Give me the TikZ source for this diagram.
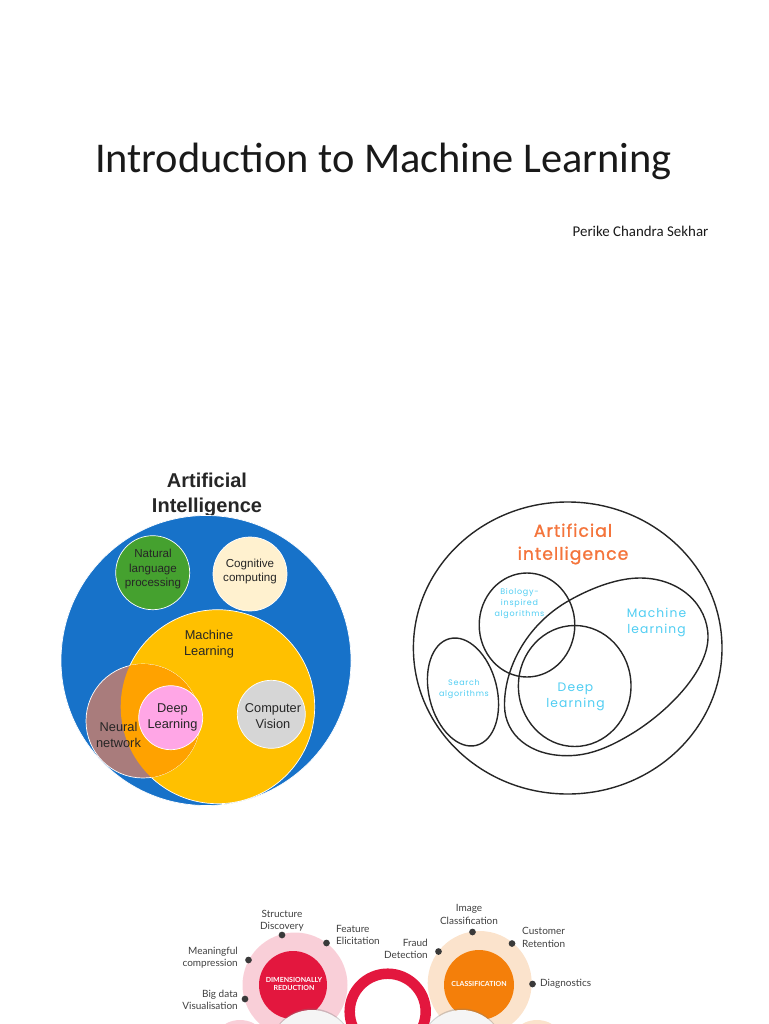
\documentclass[tikz,border=0pt]{standalone}
\usepackage{fontspec}
\setmainfont{Carlito}
\newfontfamily\arialf{Liberation Sans}
\newfontfamily\latof{Lato}
\newfontfamily\handf[LetterSpace=6,FakeBold=1.2]{Poppins}
\newfontfamily\handsf[LetterSpace=9]{Poppins}
\usetikzlibrary{shadows,shapes.geometric}
\definecolor{aiblue}{HTML}{1772C9}
\definecolor{mlyellow}{HTML}{FFC000}
\definecolor{nnbrown}{HTML}{A97C7C}
\definecolor{overlaporange}{HTML}{FFA200}
\definecolor{nlpgreen}{HTML}{45A12F}
\definecolor{cogcream}{HTML}{FFF1CF}
\definecolor{dlpink}{HTML}{FFA6E6}
\definecolor{cvgray}{HTML}{D6D6D6}
\definecolor{handorange}{HTML}{F4743B}
\definecolor{handblue}{HTML}{4FCDF2}
\definecolor{dimred}{HTML}{E3173E}
\definecolor{dimpink}{HTML}{F9CFD8}
\definecolor{claorange}{HTML}{F47F0A}
\definecolor{clacream}{HTML}{FBE3CC}
\definecolor{dotgray}{HTML}{3A3A3A}
\tikzset{
  x=1pt,y=-1pt,
  venn/.style={circle,draw=white,line width=.7pt,inner sep=0pt,outer sep=0pt},
  lefttext/.style={font=\arialf\fontsize{12.8}{16}\selectfont,align=center,text=black!85,inner sep=0pt},
  lefttextsmall/.style={font=\arialf\fontsize{11.6}{14.6}\selectfont,align=center,text=black!85,inner sep=0pt},
  handline/.style={draw=black!85,line width=1.4pt},
  handlabel/.style={font=\handsf\fontsize{12.3}{16}\selectfont,align=center,text=handblue,inner sep=0pt},
  handsmall/.style={font=\handsf\fontsize{8}{11.3}\selectfont,align=center,text=handblue,inner sep=0pt},
  bottomtext/.style={font=\latof\fontsize{10}{12.2}\selectfont,text=black!75,inner sep=0pt},
  inbadge/.style={font=\latof\bfseries\fontsize{7}{8.7}\selectfont,align=center,text=white,inner sep=0pt},
  blackdot/.style={circle,fill=dotgray,inner sep=0pt,minimum size=6.7pt},
}
\begin{document}
\begin{tikzpicture}
\useasboundingbox (0,0) rectangle (768,1024);
\clip (0,0) rectangle (768,1024);
% header
\node[font=\fontsize{42.4}{50}\selectfont,text=black!90,inner sep=0pt] (title) at (383.5,161.5) {Introduction to Machine Learning};
\node[font=\fontsize{14.9}{17}\selectfont,text=black!90,inner sep=0pt] (author) at (640.5,231) {Perike Chandra Sekhar};
% left diagram
\node[font=\arialf\bfseries\fontsize{20}{25.5}\selectfont,align=center,text=black!85,inner sep=0pt] (ltitle) at (207,495) {Artificial\\Intelligence};
\node[venn,fill=aiblue,minimum size=290pt] (ai) at (206,660.5) {};
\node[venn,fill=nlpgreen,minimum size=74pt] (nlp) at (152.7,572.7) {};
\node[venn,fill=cogcream,minimum size=74pt] (cog) at (250,574) {};
\node[venn,fill=mlyellow,minimum size=194pt] (ml) at (217.7,706.7) {};
\node[venn,fill=nnbrown,minimum size=114pt] (nn) at (143,721) {};
\begin{scope}
  \clip (217.7,706.7) circle (97);
  \fill[overlaporange] (143,721) circle (57);
\end{scope}
\node[venn,fill=dlpink,minimum size=64pt] (dl) at (170.7,717.7) {};
\node[venn,fill=cvgray,minimum size=68pt] (cv) at (271.3,714.3) {};
\node[lefttextsmall] (tnlp) at (153,569) {Natural\\language\\processing};
\node[lefttextsmall] (tcog) at (250,571.5) {Cognitive\\computing};
\node[lefttext] (tml) at (209,644.5) {Machine\\Learning};
\node[lefttext] (tdl) at (172.5,717.5) {Deep\\Learning};
\node[lefttext] (tcv) at (273,716) {Computer\\Vision};
\node[lefttext] (tnn) at (118.5,735) {Neural\\network};
% right diagram
\node[handline,ellipse,minimum width=308.6pt,minimum height=292pt,inner sep=0pt] (rai) at (567.7,648) {};
\draw[handline] (527,625) ellipse (47.8 and 52);
\draw[handline] (574.7,686) ellipse (56.3 and 60.5);
\draw[handline,rotate around={14:(463,692)}] (463,692) ellipse (34 and 55);
\draw[handline] (504.5,706) .. controls (504,670) and (525,625) .. (570,600)
  .. controls (595,586) and (620,578) .. (640,578)
  .. controls (680,578) and (708,605) .. (708,637)
  .. controls (708,670) and (670,710) .. (633,733)
  .. controls (610,747) and (590,755.7) .. (567,755.7)
  .. controls (530,755.7) and (505,735) .. (504.5,706) -- cycle;
\node[font=\handf\fontsize{17.2}{23}\selectfont,align=center,text=handorange,inner sep=0pt] (rtitle) at (573,544) {Artificial\\intelligence};
\node[handlabel] (rml) at (656.5,622) {Machine\\learning};
\node[handlabel] (rdl) at (575.5,697) {Deep\\learning};
\node[handsmall] (rbio) at (519.5,603.5) {Biology-\\inspired\\algorithms};
\node[handsmall] (rsea) at (464,689) {Search\\algorithms};
% bottom diagram
\node[circle,fill=dimpink,minimum size=105pt,inner sep=0pt] (dimo) at (295,985) {};
\node[circle,fill=dimred,minimum size=68pt,inner sep=0pt] (dimi) at (293,985) {};
\node[circle,fill=clacream,minimum size=104pt,inner sep=0pt] (clao) at (479.7,983) {};
\node[circle,fill=claorange,minimum size=70pt,inner sep=0pt] (clai) at (479,985) {};
\node[circle,draw=dimred,line width=10.5pt,fill=white,minimum size=76pt,inner sep=0pt] (ring) at (387.7,1011.7) {};
\fill[dimpink] (240,1050) circle (30);
\fill[clacream] (537,1050) circle (30);
\node[circle,fill=white!96!black,minimum size=84pt,inner sep=0pt,drop shadow={opacity=.35,shadow xshift=0pt,shadow yshift=1.5pt}] (wl) at (311.7,1052) {};
\node[circle,fill=white!96!black,minimum size=84pt,inner sep=0pt,drop shadow={opacity=.35,shadow xshift=0pt,shadow yshift=1.5pt}] (wr) at (461.7,1052) {};
\node[inbadge] (tdim) at (294,984) {DIMENSIONALLY\\REDUCTION};
\node[inbadge] (tcla) at (479,984) {CLASSIFICATION};
\node[blackdot] (d1) at (282,935) {};
\node[blackdot] (d2) at (326.5,943) {};
\node[blackdot] (d3) at (248.5,960) {};
\node[blackdot] (d4) at (245,999) {};
\node[blackdot] (d5) at (472.5,932) {};
\node[blackdot] (d6) at (512,943.5) {};
\node[blackdot] (d7) at (438.5,951.5) {};
\node[blackdot] (d8) at (532.5,984) {};
\node[bottomtext,align=center] (b1) at (282,920.5) {Structure\\Discovery};
\node[bottomtext,align=left,anchor=west] (b2) at (336,935) {Feature\\Elicitation};
\node[bottomtext,align=right,anchor=east] (b3) at (238,958) {Meaningful\\compression};
\node[bottomtext,align=right,anchor=east] (b4) at (238,999.5) {Big data\\Visualisation};
\node[bottomtext,align=center] (b5) at (469,914.5) {Image\\Classification};
\node[bottomtext,align=left,anchor=west] (b6) at (522,937.5) {Customer\\Retention};
\node[bottomtext,align=right,anchor=east] (b7) at (428,949) {Fraud\\Detection};
\node[bottomtext,anchor=west] (b8) at (540,984) {Diagnostics};
\end{tikzpicture}
\end{document}
